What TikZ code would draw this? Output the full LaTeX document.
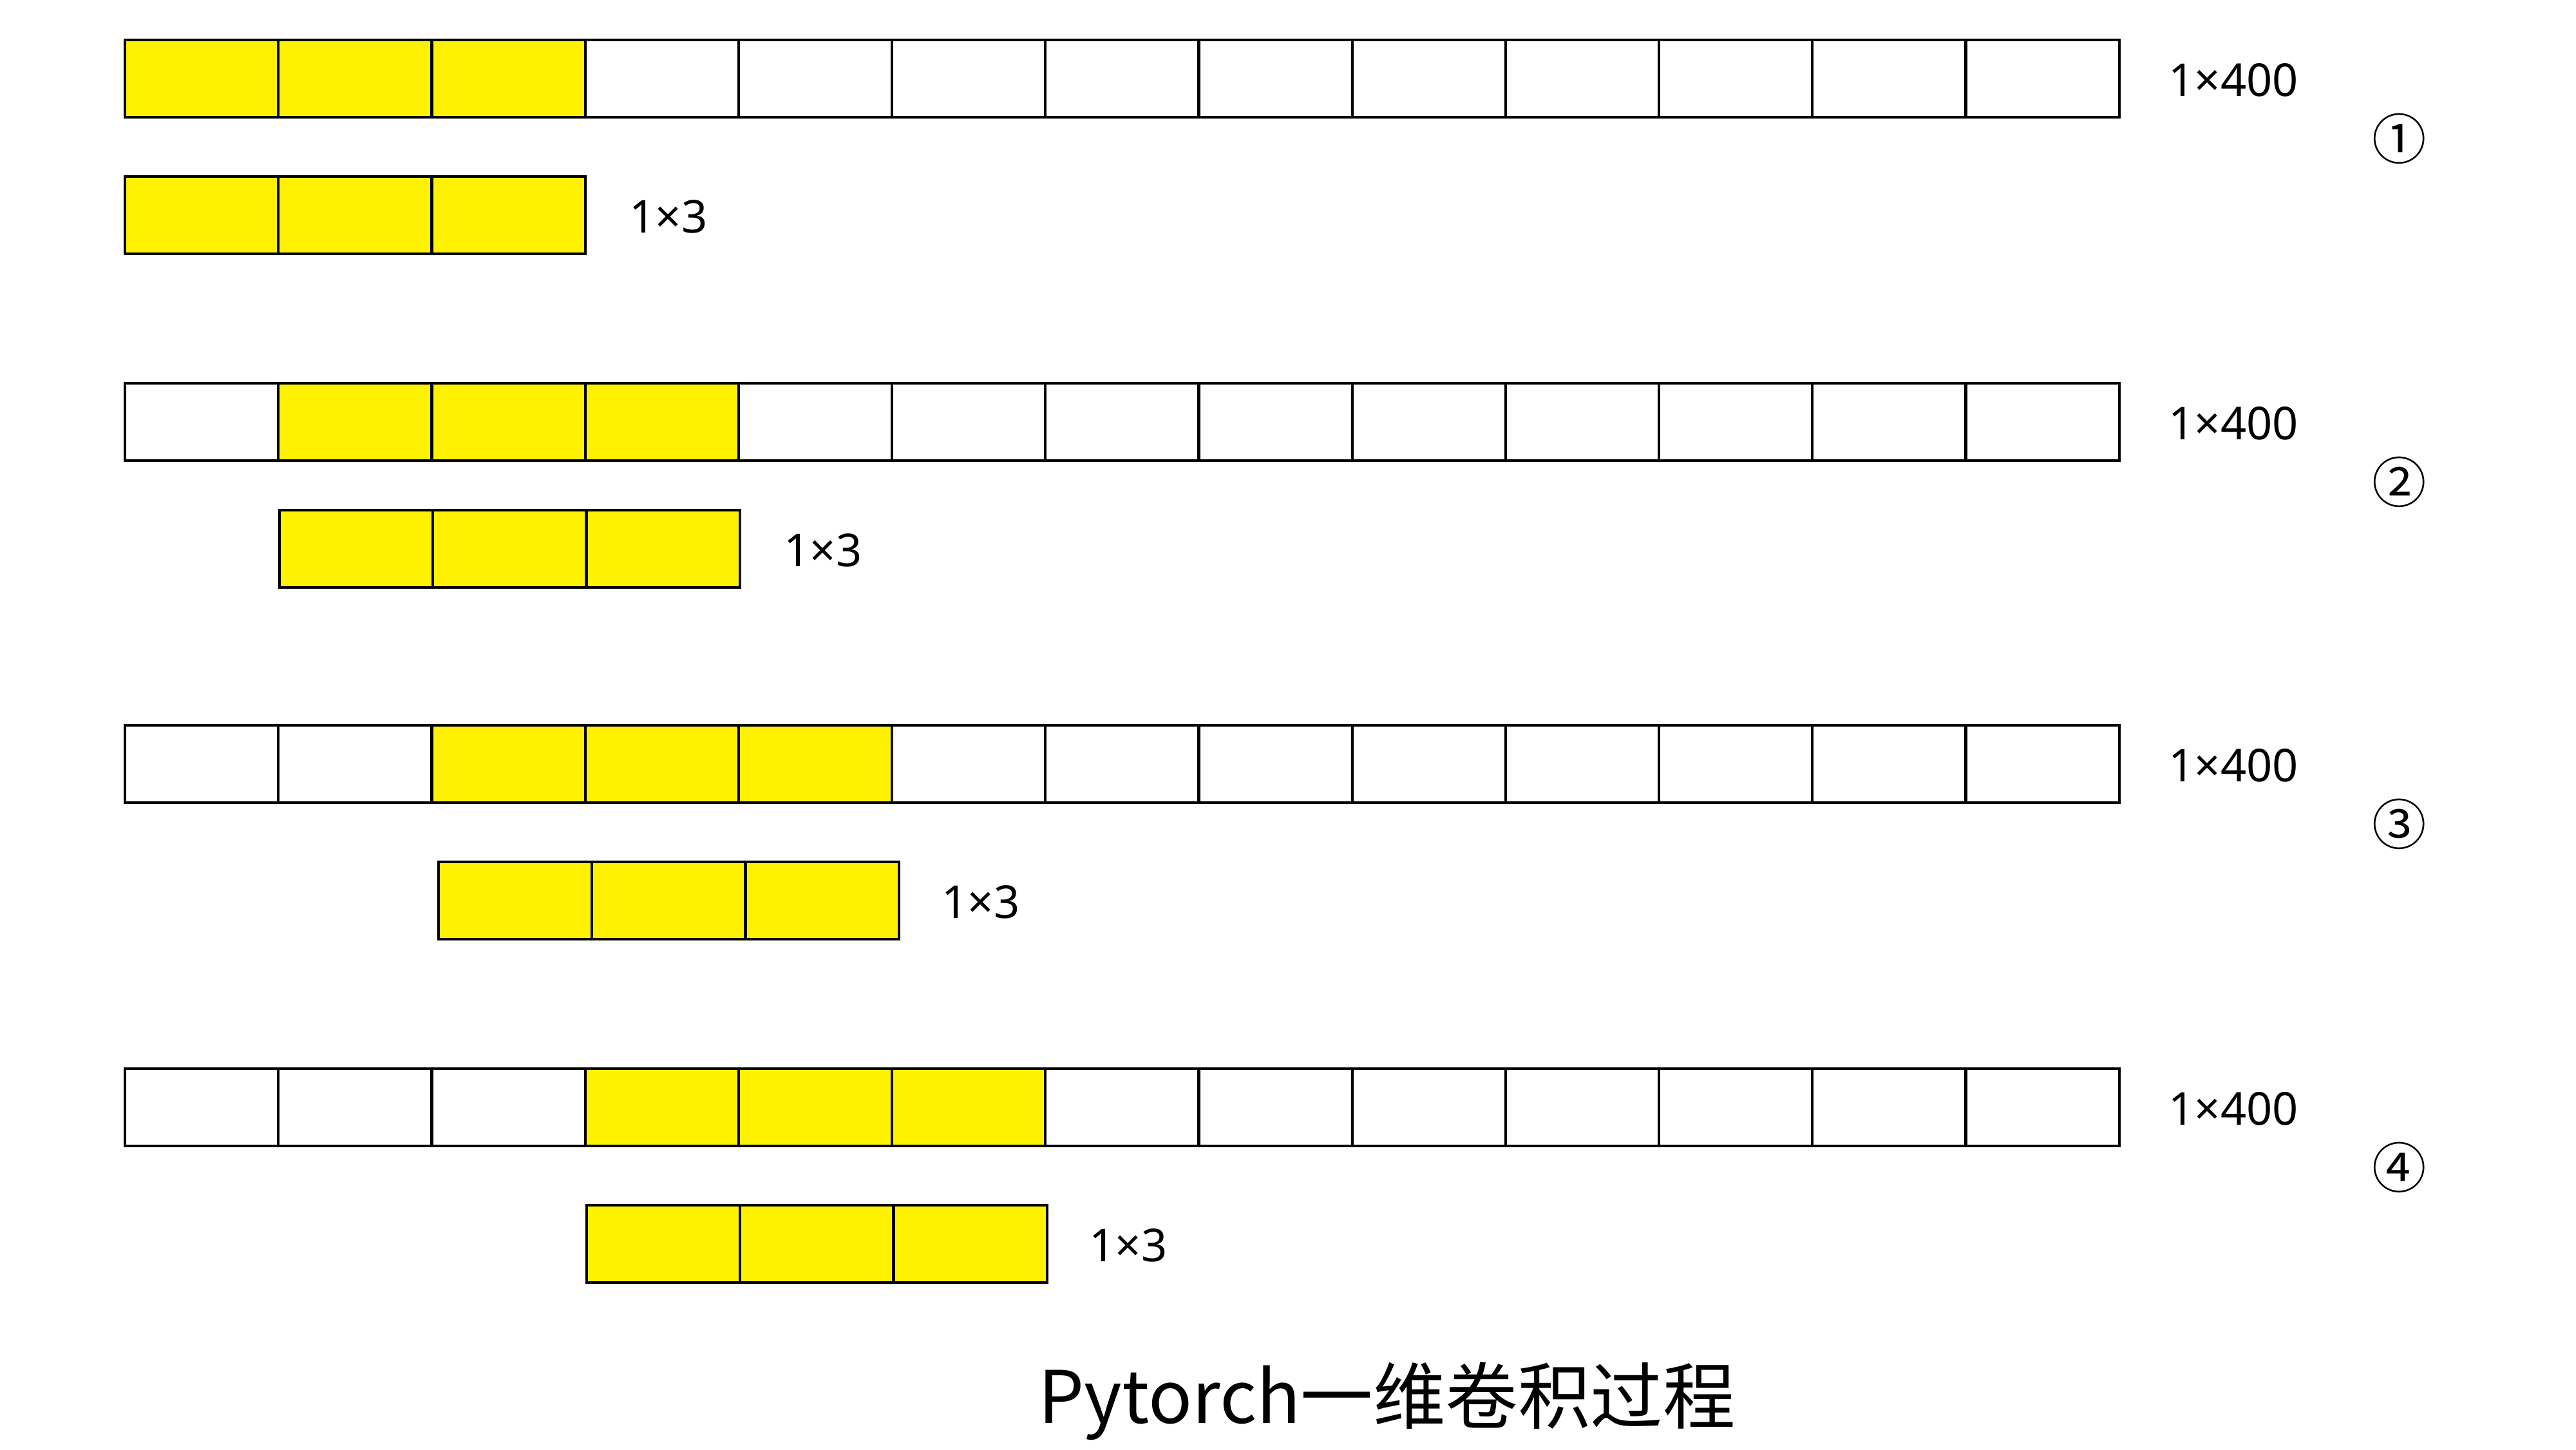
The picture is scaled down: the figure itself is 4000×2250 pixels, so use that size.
\documentclass[tikz,border=0pt]{standalone}
\usepackage{fontspec}
\setmainfont{Noto Sans CJK SC}
\newfontfamily\labfont{Noto Sans}
\begin{document}
\begin{tikzpicture}[x=0.01cm,y=-0.01cm,
  cell/.style={draw=black,line width=1.2pt},
  hot/.style={cell,fill=yellow},
  lab/.style={font=\labfont\fontsize{20}{24}\selectfont,anchor=west,inner sep=0pt},
  num/.style={font=\fontsize{24}{28}\selectfont,inner sep=0pt},
  ttl/.style={font=\fontsize{32}{38}\selectfont,anchor=base west,inner sep=0pt}]
\useasboundingbox[fill=white] (0,0) rectangle (4000,2250);
\def\cw{238.2}
\foreach \r/\top/\h/\kx/\ktop/\lx/\cn in {1/62/0/194/274/977/①,2/595/1/434/792/1217/②,3/1126/2/681/1338/1462/③,4/1659/3/911/1871/1691/④}{
  \fill[yellow] (194+\h*\cw,\top) rectangle ++(3*\cw,120);
  \foreach \i in {0,...,12}{
    \draw[cell] (194+\i*\cw,\top) rectangle ++(\cw,120);
  }
  \foreach \i in {0,1,2}{
    \draw[hot] (\kx+\i*\cw,\ktop) rectangle ++(\cw,120);
  }
  \node[lab] (k\r) at (\lx,\ktop+62) {1×3};
  \node[lab] (s\r) at (3367,\top+62) {1×400};
  \node[num] (c\r) at (3726,\top+153) {\cn};
}
\node[ttl] (title) at (1612,2209) {Pytorch一维卷积过程};
\end{tikzpicture}
\end{document}
